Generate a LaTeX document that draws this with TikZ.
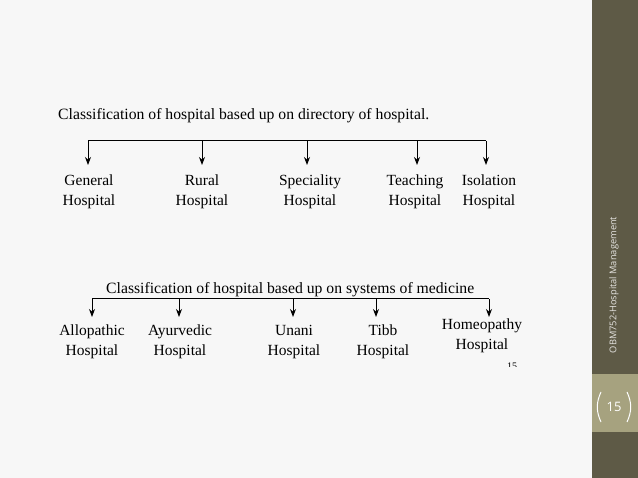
\documentclass[tikz,border=0pt]{standalone}
\usepackage{fontspec}
\usetikzlibrary{arrows.meta}
\setmainfont{Liberation Serif}
\newfontfamily\sidefont{Open Sans}
\definecolor{sidebar}{HTML}{5E5A46}
\definecolor{numbox}{HTML}{A6A27F}
\tikzset{leaf/.style={align=center, font=\fontsize{15.5}{20}\selectfont, inner sep=0pt},
  head/.style={anchor=west, font=\fontsize{15.7}{16}\selectfont, inner sep=0pt},
  branch/.style={-{Stealth[length=8pt,width=6pt]}, line width=1pt}}
\begin{document}
\begin{tikzpicture}[x=1pt,y=-1pt]
  \useasboundingbox (0,0) rectangle (638,478);
  \fill[gray!6] (0,0) rectangle (592,478);
  \fill[sidebar] (592,0) rectangle (638,478);
  \fill[numbox] (592,374) rectangle (638,432);
  \node[rotate=90, text=white!85!sidebar, font=\sidefont\fontsize{9.3}{10}\selectfont] (course) at (614,285) {OBM752-Hospital Management};
  \node[text=white, font=\sidefont\fontsize{13}{14}\selectfont] (page) at (614,407) {15};
  \draw[white, line width=1pt] (601,392) to[bend right=25] (601,422)
        (627,392) to[bend left=25] (627,422);

  % directory
  \node[head] (t1) at (58,116) {Classification of hospital based up on directory of hospital.};
  \coordinate (a0) at (88,141);
  \coordinate (a4) at (486,141);
  \node[leaf] (general) at (89,192) {General\\Hospital};
  \node[leaf] (rural) at (202,192) {Rural\\Hospital};
  \node[leaf] (special) at (310,192) {Speciality\\Hospital};
  \node[leaf] (teach) at (415,192) {Teaching\\Hospital};
  \node[leaf] (isol) at (489,192) {Isolation\\Hospital};
  \draw[line width=1pt] (a0) -- (a4);
  \foreach \n/\x in {general/88, rural/202, special/307, teach/417, isol/486}
    \draw[branch] (\x,141) -- (\x,165);

  % systems of medicine
  \node[head] (t2) at (106,290) {Classification of hospital based up on systems of medicine};
  \coordinate (b0) at (92,299);
  \coordinate (b4) at (489,299);
  \node[leaf] (allo) at (92,342) {Allopathic\\Hospital};
  \node[leaf] (ayur) at (180,342) {Ayurvedic\\Hospital};
  \node[leaf] (unani) at (294,342) {Unani\\Hospital};
  \node[leaf] (tibb) at (383,342) {Tibb\\Hospital};
  \node[leaf] (homeo) at (482,336) {Homeopathy\\Hospital};
  \draw[line width=1pt] (b0) -- (b4);
  \foreach \n/\x in {allo/92, ayur/179, unani/293, tibb/376, homeo/489}
    \draw[branch] (\x,299) -- (\x,317);
  \begin{scope}
    \clip (500,358) rectangle (525,367);
    \node[font=\fontsize{10}{10}\selectfont] (pg) at (512,366) {15};
  \end{scope}
\end{tikzpicture}
\end{document}
